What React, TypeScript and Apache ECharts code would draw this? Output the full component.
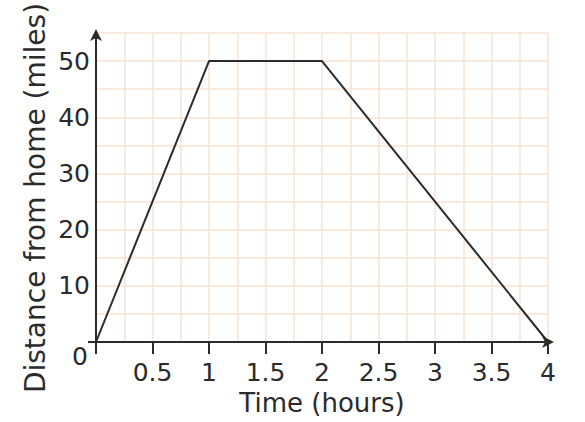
import React, { useEffect, useRef } from "react";
import * as echarts from "echarts";

const times = [0, 1, 2, 4];
const distances = [0, 50, 50, 0];
const xTickLabels = ["0.5", "1", "1.5", "2", "2.5", "3", "3.5", "4"];
const yTickLabels = ["10", "20", "30", "40", "50"];
const xName = "Time (hours)";
const yName = "Distance from home (miles)";

const FONT = "'DejaVu Sans ExtraLight', 'DejaVu Sans'";
const INK = "#2b2b2b";
const GRIDC = "#fbe2d3";

export default function App() {
  const ref = useRef<HTMLDivElement>(null);
  useEffect(() => {
    const chart = echarts.init(ref.current!, null, { renderer: "svg" });
    const fmt = (list: string[]) => (v: number) => {
      const s = String(Math.round(v * 100) / 100);
      return list.includes(s) ? s : "";
    };
    chart.setOption({
      animation: false,
      backgroundColor: "#fff",
      grid: { left: 96, top: 33, right: 37, bottom: 80 },
      xAxis: {
        type: "value",
        min: 0,
        max: 4,
        interval: 0.5,
        name: xName,
        nameLocation: "middle",
        nameGap: 48,
        nameTextStyle: { fontFamily: FONT, fontSize: 26, color: INK },
        axisLine: {
          show: true,
          lineStyle: { color: INK, width: 2 },
          symbol: ["none", "arrow"],
          symbolSize: [9, 12],
          symbolOffset: [0, 6],
        },
        axisTick: { show: true, length: 12, lineStyle: { color: INK, width: 2 } },
        axisLabel: {
          formatter: fmt(xTickLabels),
          fontFamily: FONT,
          fontSize: 25,
          color: INK,
          margin: 18,
        },
        splitLine: { show: true, lineStyle: { color: GRIDC, width: 1.5 } },
        minorTick: { show: false, splitNumber: 2 },
        minorSplitLine: { show: true, lineStyle: { color: GRIDC, width: 1.5 } },
      },
      yAxis: {
        type: "value",
        min: 0,
        max: 55,
        interval: 10,
        axisLine: {
          show: true,
          lineStyle: { color: INK, width: 2 },
          symbol: ["none", "arrow"],
          symbolSize: [9, 12],
          symbolOffset: [0, 4],
        },
        axisTick: { show: false },
        axisLabel: {
          formatter: fmt(yTickLabels),
          fontFamily: FONT,
          fontSize: 25,
          color: INK,
          margin: 6,
        },
        splitLine: { show: true, lineStyle: { color: GRIDC, width: 1.5 } },
        minorTick: { show: false, splitNumber: 2 },
        minorSplitLine: { show: true, lineStyle: { color: GRIDC, width: 1.5 } },
      },
      graphic: [
        {
          type: "text",
          x: 35,
          y: 198,
          rotation: Math.PI / 2,
          style: {
            text: yName,
            font: `28px ${FONT}`,
            fill: INK,
            align: "center",
            verticalAlign: "middle",
          },
        },
        {
          type: "text",
          left: 72,
          top: 344,
          style: { text: "0", font: `25px ${FONT}`, fill: INK },
        },
        {
          type: "line",
          shape: { x1: 88, y1: 342, x2: 96, y2: 342 },
          style: { stroke: INK, lineWidth: 2 },
        },
      ],
      series: [
        {
          type: "line",
          data: times.map((t, i) => [t, distances[i]]),
          showSymbol: false,
          lineStyle: { color: INK, width: 2 },
          z: 5,
        },
      ],
    });
    return () => chart.dispose();
  }, []);
  return <div ref={ref} style={{ width: 585, height: 422, position: "fixed", left: 0, top: 0 }} />;
}
